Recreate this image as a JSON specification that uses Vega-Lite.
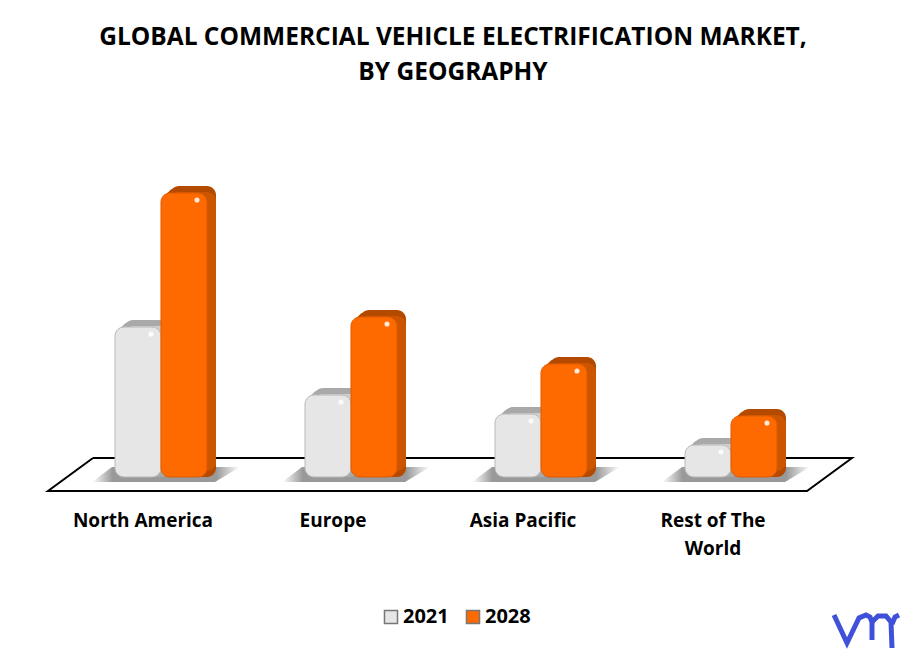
{"$schema":"https://vega.github.io/schema/vega-lite/v6.json","width":760,"height":400,"autosize":"none","padding":{"left":48,"top":100,"right":97,"bottom":150},"background":"white","config":{"view":{"stroke":null}},
"title":{"text":["GLOBAL COMMERCIAL VEHICLE ELECTRIFICATION MARKET,","BY GEOGRAPHY"],"font":"Open Sans","fontWeight":"bold","fontSize":24.5,"lineHeight":35,"color":"#000000","anchor":"middle","dx":25,"offset":15},
"datasets":{
"bars":[{"region":"North America","year":"2021","v":150},{"region":"North America","year":"2028","v":284},{"region":"Europe","year":"2021","v":82},{"region":"Europe","year":"2028","v":160},{"region":"Asia Pacific","year":"2021","v":63},{"region":"Asia Pacific","year":"2028","v":113},{"region":"Rest of The World","year":"2021","v":32},{"region":"Rest of The World","year":"2028","v":61}],
"floor":[{"fx":45,"v":19,"o":1},{"fx":804,"v":19,"o":2},{"fx":759,"v":-14,"o":3},{"fx":0,"v":-14,"o":4},{"fx":45,"v":19,"o":5}],
"shadow":[{"g":"a","fx":44,"v":-5,"v2":-5},{"g":"a","fx":64,"v":10,"v2":-5},{"g":"a","fx":167,"v":10,"v2":-5},{"g":"a","fx":192,"v":10,"v2":10},
{"g":"b","fx":234,"v":-5,"v2":-5},{"g":"b","fx":254,"v":10,"v2":-5},{"g":"b","fx":357,"v":10,"v2":-5},{"g":"b","fx":382,"v":10,"v2":10},
{"g":"c","fx":424,"v":-5,"v2":-5},{"g":"c","fx":444,"v":10,"v2":-5},{"g":"c","fx":547,"v":10,"v2":-5},{"g":"c","fx":572,"v":10,"v2":10},
{"g":"d","fx":614,"v":-5,"v2":-5},{"g":"d","fx":634,"v":10,"v2":-5},{"g":"d","fx":737,"v":10,"v2":-5},{"g":"d","fx":762,"v":10,"v2":10}],
"logo":[{"s":"a","o":1,"fx":786,"v":-138},{"s":"a","o":2,"fx":799,"v":-166},{"s":"a","o":3,"fx":811,"v":-141},{"s":"a","o":4,"fx":818,"v":-138},{"s":"a","o":5,"fx":822,"v":-140},{"s":"a","o":6,"fx":824,"v":-145},{"s":"a","o":7,"fx":824,"v":-163},
{"s":"b","o":1,"fx":824,"v":-145},{"s":"b","o":2,"fx":830,"v":-139},{"s":"b","o":3,"fx":838,"v":-139},{"s":"b","o":4,"fx":843,"v":-145},{"s":"b","o":5,"fx":844,"v":-171},
{"s":"c","o":1,"fx":844,"v":-147},{"s":"c","o":2,"fx":847,"v":-140},{"s":"c","o":3,"fx":851,"v":-138}]},
"encoding":{"y":{"field":"v","type":"quantitative","scale":{"domain":[-23,377]},"axis":null,"stack":null}},
"layer":[
{"data":{"name":"shadow"},"mark":{"type":"area","clip":false,"color":{"gradient":"linear","x1":0,"x2":1,"y1":0,"y2":0,"stops":[{"offset":0,"color":"#ffffff"},{"offset":0.14,"color":"#999999"},{"offset":0.84,"color":"#999999"},{"offset":1,"color":"#ffffff"}]}},"encoding":{"x":{"field":"fx","type":"quantitative","scale":{"domain":[0,760],"nice":false},"axis":null},"y2":{"field":"v2"},"detail":{"field":"g"}}},
{"data":{"name":"floor"},"mark":{"type":"line","color":"#000000","strokeWidth":2,"clip":false},"encoding":{"x":{"field":"fx","type":"quantitative","scale":{"domain":[0,760],"nice":false},"axis":null},"order":{"field":"o"}}},
{"data":{"name":"logo"},"mark":{"type":"line","color":"#3f51d8","strokeWidth":5,"clip":false},"encoding":{"x":{"field":"fx","type":"quantitative","scale":{"domain":[0,760],"nice":false},"axis":null},"detail":{"field":"s"},"order":{"field":"o"}}},
{"data":{"name":"bars"},"mark":{"type":"bar","cornerRadius":9,"width":46,"yOffset":-2},"encoding":{"x":{"field":"region","type":"nominal","sort":null,"scale":{"range":[21,781],"paddingInner":0.516,"paddingOuter":0.258},"axis":{"title":null,"domain":false,"ticks":false,"labelAngle":0,"labelFont":"Open Sans","labelFontWeight":"bold","labelFontSize":19,"labelColor":"#000000","labelPadding":11,"labelLineHeight":28,"labelOffset":-21,"labelExpr":"datum.label == 'Rest of The World' ? ['Rest of The','World'] : datum.label"}},"xOffset":{"field":"year","type":"nominal"},"fill":{"condition":{"test":"datum.year == '2021'","value":"#a9a9a9"},"value":"#b34a00"}}},
{"data":{"name":"bars"},"mark":{"type":"bar","cornerRadius":9,"width":46,"yOffset":-5},"encoding":{"x":{"field":"region","type":"nominal","sort":null,"scale":{"range":[24,784],"paddingInner":0.516,"paddingOuter":0.258},"axis":null},"xOffset":{"field":"year","type":"nominal"},"fill":{"condition":{"test":"datum.year == '2021'","value":"#a9a9a9"},"value":"#b34a00"}}},
{"data":{"name":"bars"},"mark":{"type":"bar","cornerRadius":9,"width":46,"yOffset":-7},"encoding":{"x":{"field":"region","type":"nominal","sort":null,"scale":{"range":[27,787],"paddingInner":0.516,"paddingOuter":0.258},"axis":null},"xOffset":{"field":"year","type":"nominal"},"fill":{"condition":{"test":"datum.year == '2021'","value":"#a9a9a9"},"value":"#b34a00"}}},
{"data":{"name":"bars"},"mark":{"type":"bar","cornerRadius":9,"width":46,"yOffset":-1},"encoding":{"x":{"field":"region","type":"nominal","sort":null,"scale":{"range":[27,787],"paddingInner":0.516,"paddingOuter":0.258},"axis":null},"xOffset":{"field":"year","type":"nominal"},"y2":{"datum":6},"fill":{"condition":{"test":"datum.year == '2021'","value":"#cfcfcf"},"value":"#cc5500"}}},
{"data":{"name":"bars"},"mark":{"type":"bar","cornerRadius":9,"width":46,"strokeWidth":1},"encoding":{"x":{"field":"region","type":"nominal","sort":null,"scale":{"range":[18,778],"paddingInner":0.516,"paddingOuter":0.258},"axis":null},"xOffset":{"field":"year","type":"nominal"},"color":{"field":"year","type":"nominal","scale":{"domain":["2021","2028"],"range":["#e6e6e6","#ff6a00"]},"legend":{"title":null,"orient":"none","legendX":333,"legendY":507,"direction":"horizontal","columns":2,"symbolType":"square","symbolSize":170,"symbolStrokeWidth":1.5,"symbolStrokeColor":"#777777","labelFont":"Open Sans","labelFontWeight":"bold","labelFontSize":20,"labelColor":"#000000","labelOffset":2,"columnPadding":14}},"stroke":{"condition":{"test":"datum.year == '2021'","value":"#b8b8b8"},"value":"#e05a00"}}},
{"data":{"name":"bars"},"mark":{"type":"point","filled":true,"color":"#ffffff","opacity":0.85,"size":26,"yOffset":7},"encoding":{"x":{"field":"region","type":"nominal","sort":null,"scale":{"range":[31,791],"paddingInner":0.516,"paddingOuter":0.258},"axis":null},"xOffset":{"field":"year","type":"nominal"}}}
],
"resolve":{"scale":{"x":"independent"}}}
